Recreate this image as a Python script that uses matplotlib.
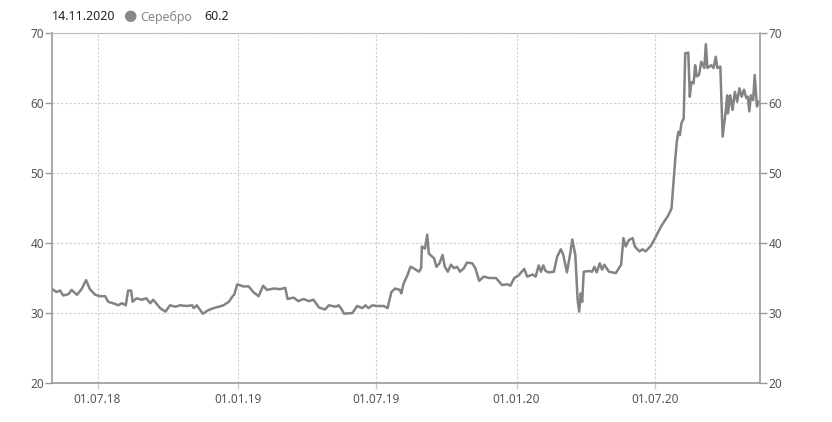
import pandas as pd
import matplotlib
matplotlib.use("Agg")
import matplotlib.pyplot as plt
import matplotlib.dates as mdates

plt.rcParams['font.family'] = ['Noto Sans', 'DejaVu Sans']

# silver price; day = days since start_date
start_date = "2018-05-03"
end_date = "2020-11-15"
day = [0, 5, 10, 14, 21, 25, 32, 38, 44, 49, 56, 62, 69, 73, 82, 86, 91, 96, 99, 103,
       105, 110, 117, 123, 128, 132, 141, 148, 154, 161, 167, 176, 183, 185, 189, 197, 204, 211, 218, 224,
       231, 236, 238, 242, 250, 257, 263, 270, 276, 281, 290, 298, 305, 308, 316, 322, 329, 336, 342, 349,
       357, 362, 371, 375, 379, 382, 393, 399, 406, 410, 414, 419, 425, 434, 439, 444, 449, 455, 457, 460,
       465, 469, 473, 480, 483, 484, 488, 491, 493, 500, 503, 507, 511, 514, 518, 522, 526, 530, 534, 539,
       543, 550, 554, 559, 565, 572, 581, 585, 589, 596, 600, 605, 611, 618, 622, 629, 633, 637, 640, 643,
       646, 650, 657, 661, 666, 669, 674, 678, 681, 685, 688, 690, 692, 694, 696, 703, 707, 710, 713, 717,
       720, 723, 729, 738, 745, 748, 751, 755, 760, 763, 769, 773, 777, 784, 790, 797, 801, 806, 811, 814,
       816, 818, 820, 822, 824, 827, 829, 833, 835, 837, 840, 842, 844, 847, 850, 854, 856, 858, 863, 866,
       869, 871, 875, 878, 882, 884, 885, 888, 891, 894, 897, 900, 903, 906, 909, 911, 913, 915, 918, 920,
       923, 925, 926]
price = [33.4, 33.0, 33.2, 32.5, 32.7, 33.3, 32.6, 33.4, 34.7, 33.4, 32.6, 32.4, 32.4, 31.6, 31.3, 31.1, 31.4, 31.1, 33.2, 33.2,
         31.6, 32.1, 31.9, 32.1, 31.4, 31.9, 30.7, 30.2, 31.1, 30.9, 31.1, 31.0, 31.1, 30.7, 31.1, 29.9, 30.4, 30.7, 30.9, 31.1,
         31.6, 32.4, 32.6, 34.1, 33.8, 33.8, 33.0, 32.4, 33.9, 33.3, 33.5, 33.4, 33.6, 32.0, 32.2, 31.7, 32.0, 31.7, 31.9, 30.8,
         30.5, 31.1, 30.9, 31.1, 30.5, 29.9, 30.0, 31.0, 30.7, 31.1, 30.7, 31.1, 31.0, 31.0, 30.7, 33.0, 33.5, 33.3, 32.8, 34.2,
         35.4, 36.6, 36.4, 35.9, 36.4, 39.5, 39.2, 41.2, 38.5, 37.8, 36.6, 37.1, 38.3, 36.6, 35.9, 36.9, 36.4, 36.6, 35.9, 36.4,
         37.2, 37.1, 36.4, 34.6, 35.2, 35.0, 35.0, 34.5, 34.0, 34.1, 33.9, 35.0, 35.4, 36.3, 35.2, 35.5, 35.2, 36.8, 35.9, 36.8,
         36.0, 35.8, 35.9, 38.0, 39.1, 38.4, 35.8, 38.3, 40.5, 38.3, 31.9, 30.2, 32.8, 31.6, 35.9, 36.0, 35.9, 36.6, 35.8, 37.1,
         36.2, 36.9, 35.9, 35.7, 36.9, 40.7, 39.5, 40.4, 40.7, 39.5, 38.8, 39.1, 38.8, 39.6, 40.8, 42.3, 43.0, 43.8, 44.9, 49.2,
         52.1, 54.5, 55.9, 55.4, 57.1, 57.8, 67.1, 67.2, 60.9, 63.0, 62.8, 65.4, 63.8, 64.0, 65.9, 65.0, 68.4, 65.0, 65.4, 65.0,
         66.6, 65.0, 65.2, 55.2, 58.8, 61.1, 58.5, 61.1, 59.0, 61.6, 60.2, 62.1, 60.9, 61.9, 60.7, 60.9, 58.8, 61.1, 60.4, 64.0,
         59.5, 60.2, 60.2]

header_date = "14.11.2020"
series_name = "Серебро"
last_value = "60.2"
y_ticks = [20, 30, 40, 50, 60, 70]
x_ticks = ["2018-07-01", "2019-01-01", "2019-07-01", "2020-01-01", "2020-07-01"]

dates = pd.Timestamp(start_date) + pd.to_timedelta(day, unit="D")

fig = plt.figure(figsize=(8.32, 4.22), dpi=100)
ax = fig.add_axes([0.0631, 0.0924, 0.8504, 0.8294])

ax.plot(dates, price, color="#838383", lw=1.8, solid_joinstyle="round")

ax.set_xlim(pd.Timestamp(start_date), pd.Timestamp(end_date))
ax.set_ylim(20, 70)
ax.set_yticks(y_ticks)
ax.set_xticks(pd.to_datetime(x_ticks))
ax.xaxis.set_major_formatter(mdates.DateFormatter("%d.%m.%y"))

ax.grid(True, color="#cfcfcf", linestyle=(0, (2.2, 1.6)), linewidth=0.8)
for side in ["left", "right", "bottom"]:
    ax.spines[side].set_color("#999999")
    ax.spines[side].set_linewidth(1.2)
ax.spines["top"].set_color("#bbbbbb")
ax.spines["top"].set_linewidth(0.8)

ax.tick_params(axis="y", which="both", left=True, right=True, labelleft=True, labelright=True,
               length=5, width=1, color="#999999", labelsize=8.5, labelcolor="#555555", pad=1)
ax.tick_params(axis="x", length=4, width=1, color="#cccccc", labelsize=8.5, labelcolor="#555555", pad=3)

# header line
fig.text(52 / 832, 1 - 17 / 422, header_date, fontsize=9, color="#222222", va="center")
fig.text(130 / 832, 1 - 17 / 422, "\u25CF", fontsize=11, color="#888888", va="center", ha="center")
fig.text(140 / 832, 1 - 17 / 422, series_name, fontsize=9, color="#888888", va="center")
fig.text(204 / 832, 1 - 17 / 422, last_value, fontsize=9, color="#222222", va="center")

fig.savefig("out.png", dpi=100)
